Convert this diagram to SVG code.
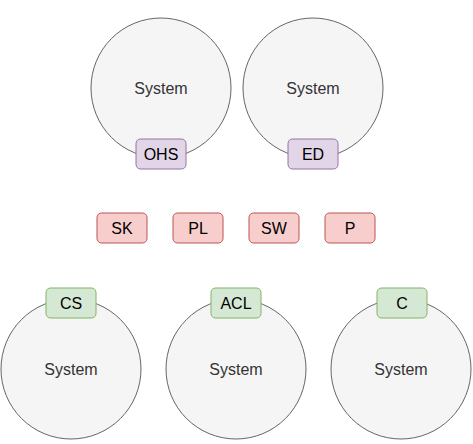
<svg xmlns="http://www.w3.org/2000/svg" width="473" height="444" viewBox="0 0 473 444">
<style>
.sys{fill:#f5f5f5;stroke:#666666;stroke-width:1}
.ohs{fill:#e1d5e7;stroke:#9673a6;stroke-width:1}
.red{fill:#f8cecc;stroke:#b85450;stroke-width:1}
.grn{fill:#d5e8d4;stroke:#82b366;stroke-width:1}
text{font-family:"Liberation Sans",Arial,sans-serif;font-size:16px;text-anchor:middle;dominant-baseline:central}
.st{fill:#333333}
.lb{fill:#000000}
</style>
<rect width="473" height="444" fill="#ffffff"/>
<g id="connectors"></g>
<g id="sys1"><circle class="sys" cx="161" cy="88" r="70"/><text class="st" x="161" y="88">System</text></g>
<g id="sys2"><circle class="sys" cx="313" cy="88" r="70"/><text class="st" x="313" y="88">System</text></g>
<g id="ohs"><rect class="ohs" x="136" y="139" width="50" height="30" rx="4.5"/><text class="lb" x="161" y="154">OHS</text></g>
<g id="ed"><rect class="ohs" x="288" y="139" width="50" height="30" rx="4.5"/><text class="lb" x="313" y="154">ED</text></g>
<g id="sk"><rect class="red" x="97" y="213" width="50" height="30" rx="4.5"/><text class="lb" x="122" y="228">SK</text></g>
<g id="pl"><rect class="red" x="173" y="213" width="50" height="30" rx="4.5"/><text class="lb" x="198" y="228">PL</text></g>
<g id="sw"><rect class="red" x="249" y="213" width="50" height="30" rx="4.5"/><text class="lb" x="274" y="228">SW</text></g>
<g id="p"><rect class="red" x="325" y="213" width="50" height="30" rx="4.5"/><text class="lb" x="350" y="228">P</text></g>
<g id="sys3"><circle class="sys" cx="71" cy="369" r="70"/><text class="st" x="71" y="369">System</text></g>
<g id="sys4"><circle class="sys" cx="236" cy="369" r="70"/><text class="st" x="236" y="369">System</text></g>
<g id="sys5"><circle class="sys" cx="401" cy="369" r="70"/><text class="st" x="401" y="369">System</text></g>
<g id="cs"><rect class="grn" x="46" y="288" width="50" height="30" rx="4.5"/><text class="lb" x="71" y="303">CS</text></g>
<g id="acl"><rect class="grn" x="211" y="288" width="50" height="30" rx="4.5"/><text class="lb" x="236" y="303">ACL</text></g>
<g id="c"><rect class="grn" x="377" y="288" width="50" height="30" rx="4.5"/><text class="lb" x="402" y="303">C</text></g>
</svg>
